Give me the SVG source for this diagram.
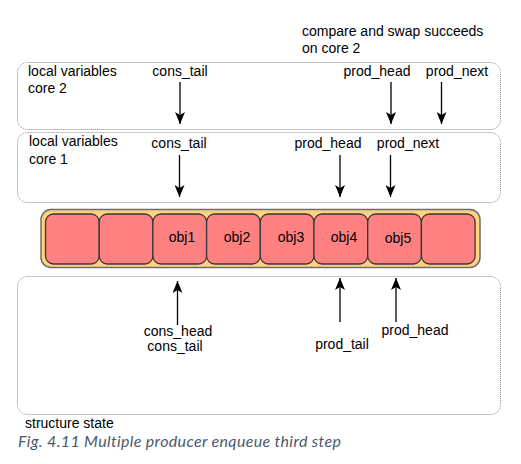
<svg xmlns="http://www.w3.org/2000/svg" width="521" height="464" viewBox="0 0 521 464">
<style>
text{font-family:"Liberation Sans",Arial,sans-serif;font-size:14px;fill:#000}
.box{fill:#fff;stroke:#8a8a8a;stroke-width:1;stroke-dasharray:1 1}
.cell{fill:#ff8080;stroke:#36393d;stroke-width:1.3}
.outer{fill:#ffd280;stroke:#6d6d6d;stroke-width:1.5}
.mid{text-anchor:middle}
.arr{stroke:#000;stroke-width:1.3;fill:none;marker-end:url(#ah)}
.cap{font-family:Lato,"Open Sans",sans-serif;font-style:italic;font-size:16px;letter-spacing:0.35px;fill:#4a5a6a}
</style>
<defs>
<marker id="ah" markerUnits="userSpaceOnUse" markerWidth="12" markerHeight="10" viewBox="0 0 12 10" refX="12" refY="5" orient="auto">
<path d="M0,0 L12,5 L0,10 L3,5 Z" fill="#000"/>
</marker>
</defs>
<g id="note">
<text x="302" y="36">compare and swap succeeds</text>
<text x="302" y="53">on core 2</text>
</g>
<g id="core2">
<rect class="box" x="17.5" y="62.5" width="483" height="67" rx="10"/>
<text x="28" y="76">local variables</text>
<text x="28" y="93">core 2</text>
<text class="mid" x="180" y="76">cons_tail</text>
<text class="mid" x="377" y="76">prod_head</text>
<text class="mid" x="457" y="76">prod_next</text>
</g>
<g id="core1">
<rect class="box" x="17.5" y="132.5" width="483" height="70" rx="10"/>
<text x="29" y="146">local variables</text>
<text x="29" y="164">core 1</text>
<text class="mid" x="179" y="148">cons_tail</text>
<text class="mid" x="328" y="148">prod_head</text>
<text class="mid" x="408" y="148">prod_next</text>
</g>
<g id="array">
<rect class="outer" x="41" y="209.5" width="439" height="58" rx="10"/>
<rect class="cell" x="45.5" y="214" width="53.7" height="50" rx="8"/>
<rect class="cell" x="99.2" y="214" width="53.7" height="50" rx="8"/>
<rect class="cell" x="152.9" y="214" width="53.7" height="50" rx="8"/>
<rect class="cell" x="206.6" y="214" width="53.7" height="50" rx="8"/>
<rect class="cell" x="260.3" y="214" width="53.7" height="50" rx="8"/>
<rect class="cell" x="314" y="214" width="53.7" height="50" rx="8"/>
<rect class="cell" x="367.7" y="214" width="53.7" height="50" rx="8"/>
<rect class="cell" x="421.4" y="214" width="53.7" height="50" rx="8"/>
<text class="mid" x="182" y="242">obj1</text>
<text class="mid" x="237" y="242">obj2</text>
<text class="mid" x="291" y="242">obj3</text>
<text class="mid" x="344" y="242">obj4</text>
<text class="mid" x="398" y="243">obj5</text>
</g>
<g id="structure">
<rect class="box" x="17.5" y="276.5" width="483" height="138" rx="10"/>
<text class="mid" x="178" y="336">cons_head</text>
<text class="mid" x="175" y="351">cons_tail</text>
<text class="mid" x="342" y="349">prod_tail</text>
<text class="mid" x="415" y="335">prod_head</text>
<text x="25" y="428">structure state</text>
</g>
<g id="connectors">
<line class="arr" x1="180" y1="82" x2="180" y2="124"/>
<line class="arr" x1="391" y1="82" x2="391" y2="124"/>
<line class="arr" x1="441.5" y1="82" x2="441.5" y2="124"/>
<line class="arr" x1="179.5" y1="155" x2="179.5" y2="197"/>
<line class="arr" x1="340" y1="155" x2="340" y2="197"/>
<line class="arr" x1="390.5" y1="155" x2="390.5" y2="197"/>
<line class="arr" x1="177.5" y1="325" x2="177.5" y2="281"/>
<line class="arr" x1="340" y1="322" x2="340" y2="278"/>
<line class="arr" x1="396" y1="322" x2="396" y2="278"/>
</g>
<text class="cap" x="18" y="447">Fig. 4.11 Multiple producer enqueue third step</text>
</svg>
